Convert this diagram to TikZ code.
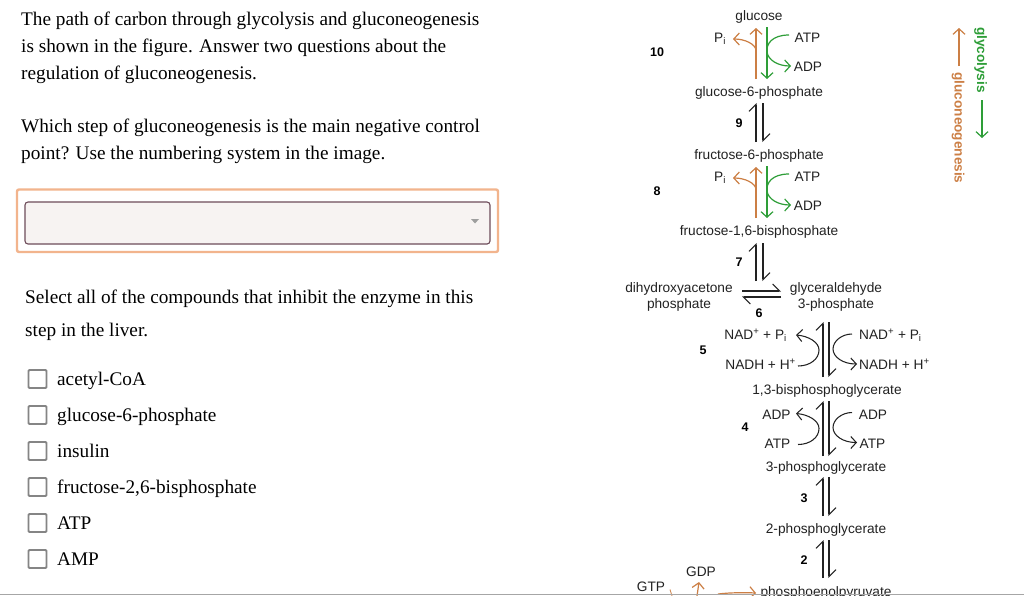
\documentclass[tikz,border=0pt]{standalone}
\usepackage{fontspec}
\setmainfont{Liberation Serif}
\newfontfamily\labelfont{Liberation Sans}
\usetikzlibrary{arrows.meta}
\definecolor{gluco}{HTML}{CC7F45}
\definecolor{glyco}{HTML}{2E9E38}
\definecolor{ink}{HTML}{222222}
\tikzset{
  prose/.style={anchor=base west,inner sep=0pt,font=\fontsize{19.25}{19}\selectfont,text=black},
  chem/.style={inner sep=0pt,yshift=-1.5pt,font=\labelfont\fontsize{13.7}{16}\selectfont,text=ink,align=center},
  stepnum/.style={inner sep=0pt,yshift=-1pt,font=\labelfont\bfseries\fontsize{12.5}{12}\selectfont,text=black},
  tickbox/.style={draw=black!48,line width=1.8pt,rounded corners=1pt,minimum size=18pt,inner sep=0pt},
  fullhead/.style={-{Straight Barb[length=5.5pt,width=12pt]}},
  uphalf/.style={-{Straight Barb[harpoon,length=7pt,width=14pt]},line width=1.1pt,draw=ink},
  downhalf/.style={-{Straight Barb[harpoon,length=7pt,width=14pt]},line width=1.1pt,draw=ink},
  orangeline/.style={fullhead,draw=gluco,line width=1.2pt},
  greenline/.style={fullhead,draw=glyco,line width=1.2pt},
  cofactor/.style={fullhead,draw=ink,line width=1.05pt},
}
\begin{document}
\begin{tikzpicture}[x=1pt,y=-1pt]
\useasboundingbox (0,0) rectangle (1024,595);
\fill[white] (0,0) rectangle (1024,595);
% question text
\node[prose] (q1) at (21,25) {The path of carbon through glycolysis and gluconeogenesis};
\node[prose] (q2) at (21,52) {is shown in the figure. Answer two questions about the};
\node[prose] (q3) at (21,79) {regulation of gluconeogenesis.};
\node[prose] (q4) at (21,132) {Which step of gluconeogenesis is the main negative control};
\node[prose] (q5) at (21,159) {point? Use the numbering system in the image.};
\node[prose] (q6) at (25,303) {Select all of the compounds that inhibit the enzyme in this};
\node[prose] (q7) at (25,336) {step in the liver.};
% dropdown
\draw[draw={rgb,255:red,242;green,180;blue,141},line width=2.4pt,rounded corners=2pt] (17,189.5) rectangle (498,252);
\draw[draw={rgb,255:red,110;green,76;blue,90},fill={rgb,255:red,247;green,243;blue,242},line width=1.1pt,rounded corners=3pt] (25,202) rectangle (490,244);
\fill[black!38] (471,219) -- (479,219) -- (475,223.5) -- cycle;
% options
\foreach \nm/\yy/\tx in {a/379/acetyl-CoA,b/415/glucose-6-phosphate,c/451/insulin,d/487/{fructose-2,6-bisphosphate},e/523/ATP,f/559/AMP}{
  \node[tickbox] (box\nm) at (37.5,\yy) {};
  \node[prose] (opt\nm) at (57,\yy+6) {\tx};
}
% metabolites
\node[chem] (glc) at (759,15) {glucose};
\node[chem] (pia) at (720,37) {P\textsubscript{i}};
\node[chem] (atpa) at (807.5,36) {ATP};
\node[chem] (adpa) at (808,65) {ADP};
\node[chem] (g6p) at (759,91) {glucose-6-phosphate};
\node[chem] (f6p) at (759,154) {fructose-6-phosphate};
\node[chem] (pib) at (720,176) {P\textsubscript{i}};
\node[chem] (atpb) at (807.5,175) {ATP};
\node[chem] (adpb) at (808,204) {ADP};
\node[chem] (fbp) at (759,230) {fructose-1,6-bisphosphate};
\node[chem] (dhap) at (679,295) {dihydroxyacetone\\phosphate};
\node[chem] (gap) at (836,295) {glyceraldehyde\\3-phosphate};
\node[chem,anchor=east] (nadl) at (787,334) {NAD\textsuperscript{+} + P\textsubscript{i}};
\node[chem,anchor=east] (nadhl) at (796,363) {NADH + H\textsuperscript{+}};
\node[chem,anchor=west] (nadr) at (859,334) {NAD\textsuperscript{+} + P\textsubscript{i}};
\node[chem,anchor=west] (nadhr) at (859,363) {NADH + H\textsuperscript{+}};
\node[chem] (bpg) at (827,389) {1,3-bisphosphoglycerate};
\node[chem] (adpl) at (776.5,413) {ADP};
\node[chem] (atpl) at (777.5,442) {ATP};
\node[chem] (adpr) at (873,413) {ADP};
\node[chem] (atpr) at (872.5,442) {ATP};
\node[chem] (tpg) at (826,466) {3-phosphoglycerate};
\node[chem] (twopg) at (826,528) {2-phosphoglycerate};
\node[chem] (gdp) at (701,570) {GDP};
\node[chem] (gtp) at (651,585) {GTP};
\node[chem] (pep) at (826,591) {phosphoenolpyruvate};
% step numbers
\foreach \nm/\xx/\yy in {10/657/51,9/739/122,8/657/190,7/739/261,6/759/312,5/703/349,4/745/426,3/804/497,2/804/559}{
  \node[stepnum] (n\nm) at (\xx,\yy) {\nm};
}
% reversible pairs
\foreach \nm/\xa/\xb/\ya/\yb in {s9/756/763/103/142,s7/756/763/243/281,s5/823/829/322/377,s4/823/829/401/456,s3/823/829/477/516,s2/823/829/540/578}{
  \coordinate (\nm a) at (\xa,\yb);
  \coordinate (\nm b) at (\xa,\ya);
  \coordinate (\nm c) at (\xb,\ya);
  \coordinate (\nm d) at (\xb,\yb);
  \draw[uphalf] (\nm a) -- (\nm b);
  \draw[downhalf] (\nm c) -- (\nm d);
}
% triose interconversion
\coordinate (s6a) at (742,291); \coordinate (s6b) at (781,291);
\coordinate (s6c) at (781,297); \coordinate (s6d) at (742,297);
\draw[uphalf] (s6a) -- (s6b);
\draw[downhalf] (s6c) -- (s6d);
% step 10 and step 8
\foreach \nm/\oy in {a/0,b/139}{
  \coordinate (ob\nm) at (756,79+\oy);
  \coordinate (ot\nm) at (756,28+\oy);
  \coordinate (oj\nm) at (756,50+\oy);
  \coordinate (op\nm) at (733,39+\oy);
  \coordinate (gt\nm) at (767,27+\oy);
  \coordinate (gb\nm) at (767,79+\oy);
  \coordinate (cs\nm) at (789,35+\oy);
  \coordinate (ce\nm) at (791,66+\oy);
  \draw[orangeline] (ob\nm) -- (ot\nm);
  \draw[orangeline] (oj\nm) .. controls (755,44+\oy) and (745,39+\oy) .. (op\nm);
  \draw[greenline] (gt\nm) -- (gb\nm);
  \draw[greenline] (cs\nm) .. controls (772,35+\oy) and (766,44+\oy) .. (767,52+\oy) .. controls (768,60+\oy) and (778,66+\oy) .. (ce\nm);
}
% cofactor loops for steps 5 and 4
\foreach \nm/\oy in {e/0,f/78.5}{
  \coordinate (ls\nm) at (798,366+\oy);
  \coordinate (le\nm) at (796,335+\oy);
  \coordinate (rs\nm) at (852,334+\oy);
  \coordinate (re\nm) at (857,364+\oy);
  \draw[cofactor] (ls\nm) .. controls (810,366+\oy) and (819,359+\oy) .. (819,350+\oy) .. controls (819,342+\oy) and (808,336+\oy) .. (le\nm);
  \draw[cofactor] (rs\nm) .. controls (842,334+\oy) and (833,341+\oy) .. (833,349+\oy) .. controls (833,357+\oy) and (843,364+\oy) .. (re\nm);
}
% phosphoenolpyruvate row
\coordinate (gdpb) at (697,596); \coordinate (gdpt) at (699,582);
\draw[orangeline] (gdpb) -- (gdpt);
\coordinate (gtpa) at (670,589.5); \coordinate (gtpb) at (672,596);
\draw[draw=gluco,line width=.8pt] (gtpa) -- (gtpb);
\coordinate (pepa) at (718,594); \coordinate (pepb) at (756,593);
\draw[orangeline] (pepa) .. controls (730,592.5) and (745,592.5) .. (pepb);
% direction key
\node[inner sep=0pt,rotate=-90,font=\labelfont\fontsize{13.6}{12}\selectfont,text=glyco] (keyg) at (980.5,60) {\textbf{glycolysis}};
\node[inner sep=0pt,rotate=-90,font=\labelfont\fontsize{13.6}{12}\selectfont,text=gluco] (keyo) at (958,128) {\textbf{gluconeogenesis}};
\coordinate (kga) at (982,100); \coordinate (kgb) at (982,138);
\coordinate (koa) at (959,66); \coordinate (kob) at (959,28);
\draw[greenline] (kga) -- (kgb);
\draw[orangeline] (koa) -- (kob);
% bottom edge of the screenshot
\fill[white] (0,594) rectangle (1024,595);
\fill[black!35] (0,593.5) rectangle (1024,595);
\end{tikzpicture}
\end{document}
